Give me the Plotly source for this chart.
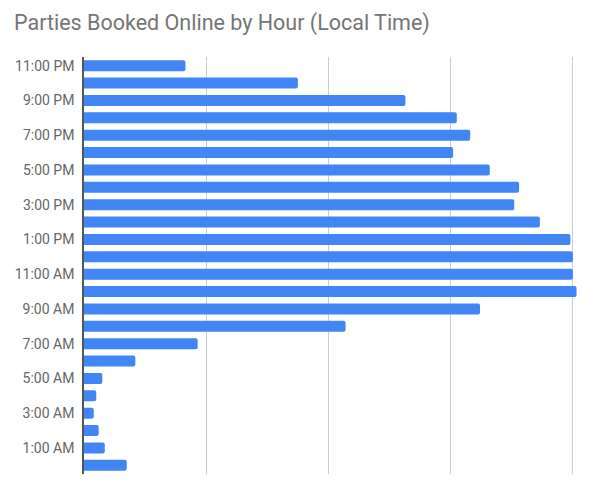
import plotly.graph_objects as go

hours = ["12:00 AM", "1:00 AM", "2:00 AM", "3:00 AM", "4:00 AM", "5:00 AM",
         "6:00 AM", "7:00 AM", "8:00 AM", "9:00 AM", "10:00 AM", "11:00 AM",
         "12:00 PM", "1:00 PM", "2:00 PM", "3:00 PM", "4:00 PM", "5:00 PM",
         "6:00 PM", "7:00 PM", "8:00 PM", "9:00 PM", "10:00 PM", "11:00 PM"]
parties = [35, 17, 12, 8, 10, 15,
           42, 93, 214, 324, 403, 400,
           400, 398, 373, 352, 356, 332,
           302, 316, 305, 263, 175, 83]
tick_labels = hours[1::2]

fig = go.Figure(go.Bar(
    x=parties, y=hours, orientation="h",
    marker=dict(color="#4285F4", cornerradius=2, line=dict(width=0)),
    cliponaxis=False,
))

fig.update_layout(
    width=600, height=489,
    margin=dict(l=84, r=21, t=57, b=15),
    paper_bgcolor="white", plot_bgcolor="white",
    bargap=0.37,
    showlegend=False,
    title=dict(text="Parties Booked Online by Hour (Local Time)",
               x=14/600, xanchor="left", xref="container",
               y=1-22/489, yanchor="middle", yref="container",
               font=dict(family="Roboto", size=21.5, color="#757575")),
    font=dict(family="Roboto"),
)
fig.update_xaxes(range=[0, 405], dtick=100, showticklabels=False,
                 showgrid=True, gridcolor="#cccccc", gridwidth=1,
                 zeroline=False, showline=False)
fig.update_yaxes(type="category", categoryorder="array", categoryarray=hours,
                 tickmode="array", tickvals=tick_labels, ticktext=tick_labels,
                 tickfont=dict(family="Roboto", size=14, color="#666666"),
                 showline=True, linecolor="#555555", linewidth=1.5,
                 showgrid=False, ticks="", ticklabelstandoff=5,
                 range=[-0.5, 23.5])

fig.write_html("out.html", config={"displayModeBar": False},
               post_script="document.body.style.margin='0';document.body.style.overflow='hidden';")
